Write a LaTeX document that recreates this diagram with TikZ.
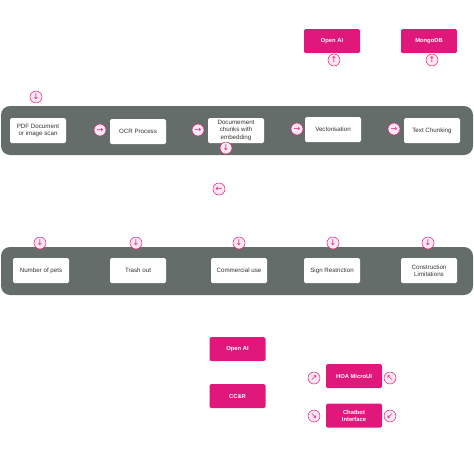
\documentclass[tikz,border=0pt]{standalone}
\usepackage{fontspec}
\setmainfont{Liberation Sans}
\newfontfamily\symfont{DejaVu Sans}
\definecolor{bandgray}{HTML}{656D6B}
\definecolor{hoapink}{HTML}{E0187C}

\begin{document}
\begin{tikzpicture}[x=1pt,y=-1pt,card/.style={shape=rectangle,fill=white,rounded corners=1.5pt,minimum width=56pt,minimum height=25pt,inner sep=1pt,align=center,text=black!80,font=\fontsize{6.2}{7.2}\selectfont},cardP/.style={card,fill=hoapink,text=white,minimum height=24pt,font=\bfseries\fontsize{5.8}{7}\selectfont},icon/.style={shape=circle,draw=hoapink,fill=hoapink!10,text=hoapink,line width=0.5pt,minimum size=12pt,inner sep=0pt,font=\symfont\fontsize{8}{8}\selectfont}]
\def\ya{130.5};
\def\yb{270.5};

\useasboundingbox (0,0) rectangle (474,467);

% grey bands
\fill[bandgray,rounded corners=9pt] (1,106) rectangle (473,155);
\fill[bandgray,rounded corners=9pt] (1,247) rectangle (473,295);

% pipeline row
\node[card] (pdf) at (38,\ya) {PDF Document\\or image scan};
\node[card] (ocr) at (138,\ya+1) {OCR Process};
\node[card] (chunks) at (236,\ya) {Documement\\chunks with\\embedding};
\node[card] (vec) at (333,\ya-1) {Vectorisation};
\node[card] (textchunk) at (432,\ya) {Text Chunking};

\node[icon] (ia) at (100,130) {→};
\node[icon] (ib) at (198,130) {→};
\node[icon] (ic) at (297,129) {→};
\node[icon] (id) at (394,129) {→};
\node[icon] (iin) at (36,97) {↓};
\node[icon] (iout) at (226,148) {↓};
\node[icon] (iback) at (219,189) {←};

% services
\node[cardP] (openai) at (332,41) {Open AI};
\node[cardP] (mongo) at (429,41) {MongoDB};
\node[icon] (iopen) at (334,60) {↑};
\node[icon] (imongo) at (432,60) {↑};

% topics row
\node[card] (pets) at (41,\yb) {Number of pets};
\node[card] (trash) at (138,\yb) {Trash out};
\node[card] (commercial) at (239,\yb) {Commercial use};
\node[card] (sign) at (332,\yb) {Sign Restriction};
\node[card] (construction) at (429,\yb) {Construction\\Limitations};

\node[icon] (ipets) at (40,243) {↓};
\node[icon] (itrash) at (136,243) {↓};
\node[icon] (icomm) at (239,243) {↓};
\node[icon] (isign) at (333,243) {↓};
\node[icon] (icons) at (428,243) {↓};

% front end
\node[cardP] (openaiB) at (237.5,349) {Open AI};
\node[cardP] (ccr) at (237.5,396) {CC\&R};
\node[cardP] (hoa) at (354,376) {HOA MicroUI};
\node[cardP] (chatbot) at (354,415.5) {Chatbot\\Interface};

\node[icon] (ihoaL) at (314,378) {↗};
\node[icon] (ihoaR) at (390,378) {↖};
\node[icon] (ichatL) at (314,416) {↘};
\node[icon] (ichatR) at (390,416) {↙};
\end{tikzpicture}
\end{document}
